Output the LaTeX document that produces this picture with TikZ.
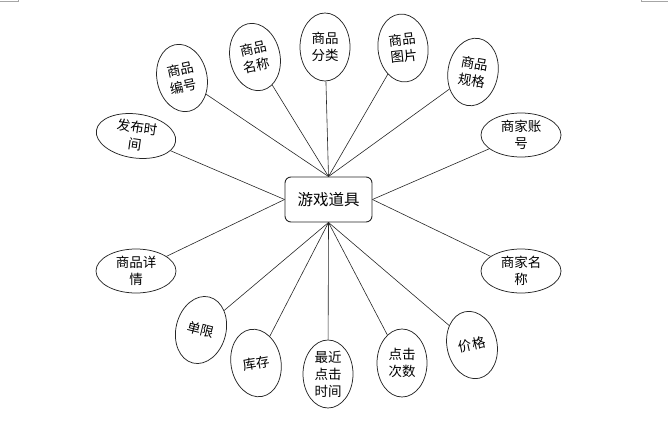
\documentclass[tikz,border=0pt]{standalone}
\usepackage{fontspec}
\setmainfont{Noto Sans CJK SC}
\usetikzlibrary{shapes.geometric}
\begin{document}
\begin{tikzpicture}[x=1pt,y=-1pt,
  attr/.style={draw=black!85, line width=0.75pt, ellipse, inner sep=0pt,
    align=center, font=\fontsize{13.5}{17}\selectfont},
  tall/.style={attr, minimum width=50pt, minimum height=68pt},
  wide/.style={attr, minimum width=80pt, minimum height=44pt},
  entity/.style={draw=black!85, line width=0.9pt, rounded corners=6pt,
    minimum width=87pt, minimum height=45pt, inner sep=0pt,
    font=\fontsize{15.5}{18}\selectfont},
  link/.style={draw=black!85, line width=0.6pt},
  cornermark/.style={draw=black!35, line width=0.6pt}]
\useasboundingbox (0,0) rectangle (671,425);
% page corner marks
\coordinate (m1) at (0,1.5); \coordinate (m2) at (18,1.5); \coordinate (m3) at (18,0);
\coordinate (m4) at (641,0); \coordinate (m5) at (641,1.5); \coordinate (m6) at (668,1.5);
\draw[cornermark] (m1) -- (m2) -- (m3);
\draw[cornermark] (m4) -- (m5) -- (m6);
% entity
\node[entity] (e) at (328.5,199.5) {游戏道具};
% attributes
\node[wide, rotate=-8] (a1) at (136,136) {发布时\\间};
\node[tall, rotate=12] (a2) at (182,78) {商品\\编号};
\node[tall, rotate=12] (a3) at (255,57) {商品\\名称};
\node[tall] (a4) at (325,47) {商品\\分类};
\node[tall, rotate=6] (a5) at (403,48) {商品\\图片};
\node[tall, rotate=-10] (a6) at (473,72) {商品\\规格};
\node[wide] (a7) at (521,135) {商家账\\号};
\node[wide] (a8) at (521,271) {商家名\\称};
\node[tall, rotate=12] (a9) at (472,345) {价格};
\node[tall] (a10) at (402,363) {点击\\次数};
\node[tall] (a11) at (328,374) {最近\\点击\\时间};
\node[tall, rotate=10] (a12) at (256,363) {库存};
\node[tall, rotate=-14] (a13) at (201,330) {单限};
\node[wide] (a14) at (136,271) {商品详\\情};
% connectors
\draw[link] (a1) -- (e.west);
\draw[link] (a14) -- (e.west);
\draw[link] (a7) -- (e.east);
\draw[link] (a8) -- (e.east);
\foreach \n in {a2,a3,a4,a5,a6} \draw[link] (\n) -- (e.north);
\foreach \n in {a9,a10,a11,a12,a13} \draw[link] (\n) -- (e.south);
\end{tikzpicture}
\end{document}
